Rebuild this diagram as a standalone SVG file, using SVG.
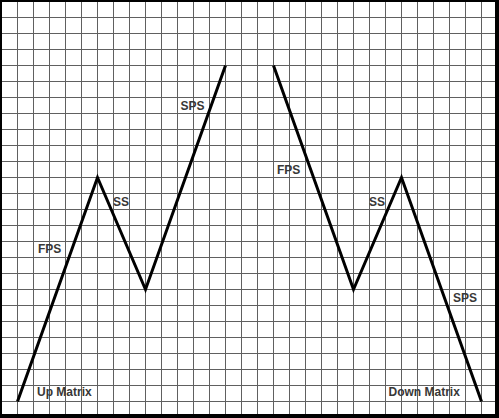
<svg xmlns="http://www.w3.org/2000/svg" width="499" height="418" viewBox="0 0 499 418">
  <style>
    .grid { stroke: #606060; stroke-width: 1; fill: none; }
    .trend { stroke: #000; stroke-width: 3; fill: none; stroke-linejoin: miter; stroke-linecap: butt; }
    .lbl { font-family: "Liberation Sans", Arial, sans-serif; font-size: 12px; font-weight: bold; fill: #383838; }
  </style>
  <rect x="0" y="0" width="499" height="418" fill="#fff"/>
  <g id="grid">
    <path class="grid" d="M17.5 2 V414 M33.5 2 V414 M49.5 2 V414 M65.5 2 V414 M81.5 2 V414 M97.5 2 V414 M113.5 2 V414 M129.5 2 V414 M145.5 2 V414 M161.5 2 V414 M177.5 2 V414 M193.5 2 V414 M209.5 2 V414 M225.5 2 V414 M241.5 2 V414 M257.5 2 V414 M273.5 2 V414 M289.5 2 V414 M305.5 2 V414 M321.5 2 V414 M337.5 2 V414 M353.5 2 V414 M369.5 2 V414 M385.5 2 V414 M401.5 2 V414 M417.5 2 V414 M433.5 2 V414 M449.5 2 V414 M465.5 2 V414 M481.5 2 V414"/>
    <path class="grid" d="M2 17.5 H495 M2 33.5 H495 M2 49.5 H495 M2 65.5 H495 M2 81.5 H495 M2 97.5 H495 M2 113.5 H495 M2 129.5 H495 M2 145.5 H495 M2 161.5 H495 M2 177.5 H495 M2 193.5 H495 M2 209.5 H495 M2 225.5 H495 M2 241.5 H495 M2 257.5 H495 M2 273.5 H495 M2 289.5 H495 M2 305.5 H495 M2 321.5 H495 M2 337.5 H495 M2 353.5 H495 M2 369.5 H495 M2 385.5 H495 M2 401.5 H495"/>
  </g>
  <g id="frame" fill="#000">
    <rect x="0" y="0" width="499" height="2"/>
    <rect x="0" y="0" width="2" height="418"/>
    <rect x="495" y="0" width="4" height="418"/>
    <rect x="0" y="414" width="499" height="4"/>
  </g>
  <g id="connectors">
    <polyline id="up-matrix-line" class="trend" points="17.5,401.5 97.5,177.5 145.5,289.5 225.5,65.5"/>
    <polyline id="down-matrix-line" class="trend" points="273.5,65.5 353.5,289.5 401.5,177.5 481.5,401.5"/>
  </g>
  <g id="up-matrix">
    <g id="up-fps"><text class="lbl" x="38" y="252.5">FPS</text></g>
    <g id="up-ss"><text class="lbl" x="113" y="206">SS</text></g>
    <g id="up-sps"><text class="lbl" x="180.5" y="110">SPS</text></g>
    <g id="up-title"><text class="lbl" x="37" y="396">Up Matrix</text></g>
  </g>
  <g id="down-matrix">
    <g id="down-fps"><text class="lbl" x="277" y="174">FPS</text></g>
    <g id="down-ss"><text class="lbl" x="369" y="206">SS</text></g>
    <g id="down-sps"><text class="lbl" x="453" y="302">SPS</text></g>
    <g id="down-title"><text class="lbl" x="388.5" y="395.5">Down Matrix</text></g>
  </g>
</svg>
